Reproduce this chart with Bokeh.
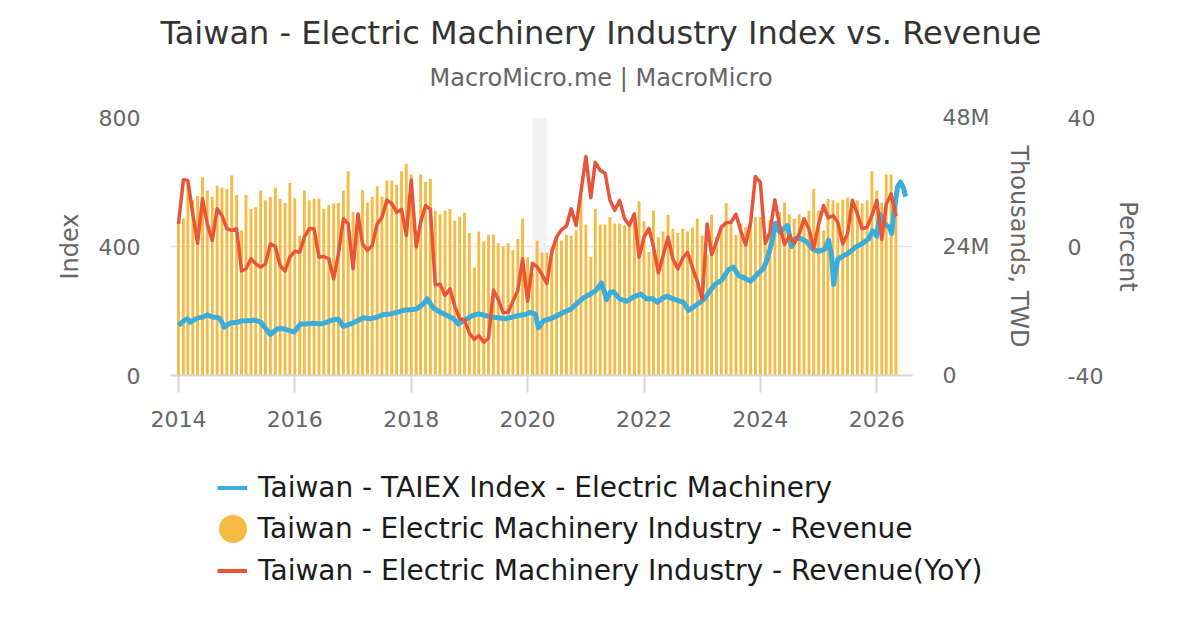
from datetime import datetime
import pandas as pd
from bokeh.plotting import figure
from bokeh.models import (Range1d, LinearAxis, FixedTicker, DatetimeTickFormatter,
                          BoxAnnotation, Title, CustomJSTickFormatter, Legend, LegendItem)
from bokeh.embed import file_html
from bokeh.resources import INLINE
from bokeh.core.properties import value

FONT = "DejaVu Sans"
BLUE = "#3AADDA"
BAR = "#F6BB43"
RED = "#E8553A"
NAN = float("nan")

# ---------------- data ----------------
title_text = "Taiwan - Electric Machinery Industry Index vs. Revenue"
subtitle_text = "MacroMicro.me | MacroMicro"
legend_labels = ["Taiwan - TAIEX Index - Electric Machinery",
                 "Taiwan - Electric Machinery Industry - Revenue",
                 "Taiwan - Electric Machinery Industry - Revenue(YoY)"]

first_month = "2014-01-01"
# monthly revenue, millions (of thousand TWD)
revenue_m = [
    28.5, 29.2, 36.3, 32.6, 33.4, 36.9, 34.4, 33.2, 35.3, 35.0, 34.7, 37.2,   # 2014
    33.6, 27.0, 33.6, 31.0, 31.3, 34.4, 32.6, 33.2, 35.0, 32.9, 32.1, 35.8,   # 2015
    33.0, 26.0, 34.4, 32.6, 32.9, 32.9, 31.0, 31.7, 32.0, 32.1, 34.4, 38.0,   # 2016
    30.4, 28.5, 34.5, 32.2, 33.2, 35.2, 33.3, 36.3, 36.3, 35.5, 38.0, 39.4,   # 2017
    37.4, 27.0, 37.4, 36.0, 36.6, 30.7, 30.0, 30.7, 31.0, 28.8, 29.6, 30.3,   # 2018
    26.5, 20.1, 26.8, 25.0, 26.2, 26.2, 24.6, 24.0, 24.6, 23.3, 25.4, 29.2,   # 2019
    22.0, 19.0, 25.1, 22.9, 22.9, 23.9, 25.4, 25.1, 26.2, 26.0, 27.0, 33.5,   # 2020
    28.1, 22.1, 31.0, 28.1, 28.1, 29.5, 28.3, 28.3, 27.9, 27.6, 28.5, 32.4,   # 2021
    28.7, 23.0, 30.7, 25.7, 26.8, 29.9, 27.3, 26.5, 27.3, 26.8, 27.6, 29.2,   # 2022
    26.0, 22.5, 29.9, 25.7, 27.3, 32.1, 28.8, 26.2, 28.3, 27.6, 28.3, 29.5,   # 2023
    29.5, 24.5, 29.0, 28.0, 30.4, 32.2, 30.0, 29.2, 30.0, 29.2, 30.7, 34.7,   # 2024
    30.7, 27.0, 32.9, 32.6, 32.2, 32.7, 33.1, 32.9, 32.6, 32.0, 32.6, 38.0,   # 2025
    34.4, 32.2, 37.4, 37.4, 33.5,                                             # 2026
]
# monthly revenue YoY, percent
revenue_yoy = [
    7.0, 20.7, 20.5, 10.0, 1.0, 14.8, 7.0, 1.9, 11.7, 9.6, 5.5, 5.0,
    5.5, -7.6, -6.9, -3.8, -5.4, -6.4, -5.4, 0.8, 0.0, -5.9, -7.6, -3.3,
    -1.5, -1.8, 2.9, 5.5, 5.5, -3.3, -3.1, -3.8, -10.0, -2.3, 8.6, 7.0,
    -6.9, 10.1, 0.8, -1.2, 0.3, 7.0, 9.0, 14.4, 13.3, 10.6, 11.5, 3.4,
    20.6, -0.1, 7.5, 12.7, 11.5, -11.9, -11.7, -15.2, -13.1, -18.5, -22.4, -22.8,
    -26.9, -28.8, -27.6, -29.7, -28.4, -13.6, -16.4, -20.5, -20.4, -17.0, -13.6, -3.8,
    -17.0, -5.2, -6.3, -8.7, -11.5, -1.7, 2.9, 5.2, 6.3, 11.7, 6.5, 16.8,
    27.9, 15.1, 26.1, 23.6, 22.8, 14.4, 11.2, 14.3, 8.6, 6.5, 10.1, -3.3,
    2.9, 5.6, 0.0, -8.2, -2.8, 2.9, -3.8, -7.0, -3.6, -1.8, -6.5, -10.8,
    -16.4, 7.0, -2.5, 1.5, 6.0, 7.4, 7.5, 10.0, 4.7, 0.5, 7.5, 21.7,
    19.9, 1.0, 4.4, 14.5, 6.5, 0.6, 3.4, 1.0, 3.9, 8.6, 5.5, -0.7,
    7.0, 12.7, 8.9, 9.6, 7.5, 0.8, 3.9, 14.3, 10.1, 5.5, 6.0, 9.6,
    14.3, 2.2, 13.1, 16.3, 9.4,
]

index_dates = [
    "2014-01-02", "2014-02-02", "2014-02-27", "2014-03-15", "2014-04-28", "2014-06-05",
    "2014-06-30", "2014-08-07", "2014-08-26", "2014-09-20", "2014-10-15", "2014-11-22",
    "2015-01-06", "2015-02-13", "2015-03-27", "2015-04-21", "2015-05-29", "2015-06-23",
    "2015-07-31", "2015-09-13", "2015-10-21", "2015-11-21", "2015-12-29",
    "2016-02-05", "2016-03-13", "2016-04-26", "2016-06-10", "2016-07-17", "2016-08-24",
    "2016-10-01", "2016-11-02", "2016-12-16",
    "2017-01-29", "2017-03-06", "2017-04-19", "2017-06-02", "2017-07-10", "2017-08-23",
    "2017-10-06", "2017-11-13", "2017-12-27",
    "2018-02-03", "2018-03-17", "2018-04-11", "2018-05-19", "2018-07-02", "2018-08-15",
    "2018-09-23", "2018-10-24", "2018-12-07",
    "2019-01-21", "2019-02-28", "2019-04-11", "2019-05-25", "2019-07-01", "2019-08-15",
    "2019-09-28", "2019-11-05", "2019-12-18",
    "2020-01-19", "2020-02-20", "2020-03-09", "2020-04-10", "2020-05-24", "2020-07-07",
    "2020-08-14", "2020-09-27", "2020-11-10", "2020-12-11",
    "2021-01-19", "2021-03-02", "2021-04-09", "2021-04-28", "2021-05-10", "2021-06-04",
    "2021-06-23", "2021-07-31", "2021-09-13", "2021-10-27", "2021-12-10",
    "2022-01-17", "2022-02-24", "2022-03-26", "2022-04-27", "2022-05-28", "2022-06-29",
    "2022-07-30", "2022-09-06", "2022-10-07", "2022-11-21", "2022-12-28",
    "2023-01-23", "2023-02-23", "2023-03-25", "2023-05-02", "2023-06-15", "2023-07-16",
    "2023-08-17", "2023-09-24", "2023-11-01", "2023-12-15",
    "2024-01-22", "2024-02-16", "2024-03-11", "2024-04-06", "2024-05-01", "2024-05-26",
    "2024-06-20", "2024-07-15", "2024-08-10", "2024-09-10", "2024-10-18", "2024-11-25",
    "2025-01-02", "2025-02-09", "2025-03-04", "2025-03-23", "2025-04-05", "2025-04-30",
    "2025-06-01", "2025-07-08", "2025-08-21", "2025-10-04", "2025-11-11", "2025-12-06",
    "2026-01-01", "2026-01-20", "2026-02-14", "2026-03-03", "2026-03-22", "2026-04-04",
    "2026-04-23", "2026-05-11", "2026-05-30", "2026-06-18", "2026-07-01",
]
index_values = [
    155, 170, 176, 165, 178, 181, 188, 181, 181, 176, 150, 163,
    165, 170, 170, 172, 166, 152, 127, 145, 145, 140, 135,
    160, 160, 162, 160, 165, 172, 175, 152, 160,
    170, 179, 176, 181, 189, 191, 196, 202, 204,
    206, 222, 238, 210, 196, 186, 176, 160, 173,
    186, 191, 186, 181, 179, 176, 181, 186, 189,
    196, 190, 148, 170, 176, 186, 196, 205, 225, 238,
    250, 262, 287, 258, 235, 258, 260, 238, 230, 243, 253,
    238, 238, 227, 240, 246, 238, 233, 227, 202, 217, 230,
    243, 265, 284, 295, 328, 336, 310, 302, 292, 315,
    333, 365, 410, 472, 445, 455, 465, 400, 425, 425, 415, 392,
    385, 392, 420, 370, 282, 360, 370, 380, 398, 410, 424, 448,
    432, 500, 475, 465, 460, 440, 522, 585, 600, 580, 555,
]

recession_start = "2020-02-01"
recession_end = "2020-04-30"

year_ticks = [2014, 2016, 2018, 2020, 2022, 2024, 2026]
index_ticks = [0, 400, 800]
revenue_ticks = [0, 24, 48]
yoy_ticks = [-40, 0, 40]

# ---------------- chart ----------------
months = pd.date_range(first_month, periods=len(revenue_m), freq="MS")
idx_dates = pd.to_datetime(index_dates)

def ms(s):
    return pd.Timestamp(s).value / 1e6

FRAME_L, FRAME_T, FRAME_R, FRAME_B = 170, 117, 912, 375
W, H_CHART, H_LEGEND = 1200, 445, 185

p = figure(width=W, height=H_CHART, x_axis_type="datetime",
           x_range=Range1d(ms("2013-11-12"), ms("2026-08-13")),
           y_range=Range1d(0, 800),
           output_backend="svg", toolbar_location=None, title=None,
           min_border_left=FRAME_L, min_border_right=W - FRAME_R,
           min_border_top=FRAME_T, min_border_bottom=H_CHART - FRAME_B)
p.outline_line_color = None
p.background_fill_color = "white"
p.border_fill_color = "white"
p.extra_y_ranges = {"rev": Range1d(0, 48), "yoy": Range1d(-40, 40)}

sub = Title(text=subtitle_text, text_font=FONT, text_font_size="24px",
            text_color="#666666", text_font_style="normal", align="left",
            offset=259, standoff=52)
main = Title(text=title_text, text_font=FONT, text_font_size="32px",
             text_color="#333333", text_font_style="normal", align="left",
             offset=-10, standoff=-32)
p.add_layout(sub, "above")
p.add_layout(main, "above")

p.xgrid.visible = False
p.ygrid.ticker = FixedTicker(ticks=index_ticks)
p.ygrid.grid_line_color = "#e6e6e6"
p.ygrid.grid_line_width = 1.5

band = BoxAnnotation(left=ms(recession_start), right=ms(recession_end),
                     fill_color="#f2f2f2", fill_alpha=1.0, line_color=None,
                     level="underlay")
p.add_layout(band)

bar_w = 18 * 24 * 3600 * 1000
p.vbar(x=months, top=revenue_m, width=bar_w, bottom=0, y_range_name="rev",
       fill_color=BAR, line_color=None)
p.line(x=idx_dates, y=index_values, line_color=BLUE, line_width=5, line_join="round")
p.line(x=months, y=revenue_yoy, y_range_name="yoy", line_color=RED,
       line_width=3.5, line_join="round")

def style_y(ax, label, standoff_lbl, label_standoff):
    ax.axis_label = label
    ax.axis_line_color = None
    ax.major_tick_line_color = None
    ax.minor_tick_line_color = None
    ax.major_tick_out = 0
    ax.major_tick_in = 0
    ax.major_label_standoff = standoff_lbl
    ax.major_label_text_font = FONT
    ax.major_label_text_font_size = "22px"
    ax.major_label_text_color = "#666666"
    ax.axis_label_text_font = FONT
    ax.axis_label_text_font_size = "24px"
    ax.axis_label_text_color = "#666666"
    ax.axis_label_text_font_style = "normal"
    ax.axis_label_standoff = label_standoff

yl = p.yaxis[0]
yl.ticker = FixedTicker(ticks=index_ticks)
style_y(yl, "Index", 30, 12)

rev_axis = LinearAxis(y_range_name="rev", ticker=FixedTicker(ticks=revenue_ticks),
                      formatter=CustomJSTickFormatter(code="return tick == 0 ? '0' : tick + 'M'"))
style_y(rev_axis, "Thousands, TWD", 30, 13)
p.add_layout(rev_axis, "right")

yoy_axis = LinearAxis(y_range_name="yoy", ticker=FixedTicker(ticks=yoy_ticks),
                      formatter=CustomJSTickFormatter(code="return String(tick)"))
style_y(yoy_axis, "Percent", 31, 8)
p.add_layout(yoy_axis, "right")

xa = p.xaxis[0]
xa.ticker = FixedTicker(ticks=[ms(f"{y}-01-01") for y in year_ticks], num_minor_ticks=0)
xa.formatter = DatetimeTickFormatter(years="%Y", months="%Y", days="%Y", hours="%Y",
                                     minutes="%Y", seconds="%Y", milliseconds="%Y",
                                     microseconds="%Y", hourmin="%Y", minsec="%Y")
xa.axis_line_color = "#d6d6d6"
xa.axis_line_width = 2
xa.major_tick_line_color = "#d6d6d6"
xa.major_tick_line_width = 2
xa.major_tick_out = 17
xa.major_tick_in = 0
xa.minor_tick_line_color = None
xa.major_label_standoff = 18
xa.major_label_text_font = FONT
xa.major_label_text_font_size = "22px"
xa.major_label_text_color = "#666666"

# ---------------- legend strip (its own root, under the chart) ----------------
lg = figure(width=W, height=H_LEGEND, x_range=Range1d(0, 1), y_range=Range1d(0, 1),
            output_backend="svg", toolbar_location=None, title=None,
            x_axis_location=None, y_axis_location=None, min_border=0)
lg.outline_line_color = None
lg.grid.visible = False
lg.background_fill_color = "white"
lg.border_fill_color = "white"

# legend keys: styled like the series, with no drawable position of their own
k_idx = lg.line(x=[NAN], y=[NAN], line_color=BLUE, line_width=4)
k_rev = lg.ellipse(x=[NAN], y=[NAN], width=28, height=28,
                   width_units="screen", height_units="screen",
                   fill_color=BAR, line_color=None)
k_yoy = lg.line(x=[NAN], y=[NAN], line_color=RED, line_width=4)

row_center = [487, 528.5, 570]          # page pixel rows of the legend entries
swatch_left, text_left = 217, 258
LINE_BOX, CIRCLE_BOX = 33, 35
for label, rend, cy, box in [(legend_labels[0], k_idx, row_center[0], LINE_BOX),
                             (legend_labels[1], k_rev, row_center[1], CIRCLE_BOX),
                             (legend_labels[2], k_yoy, row_center[2], LINE_BOX)]:
    gw = 30 if box == LINE_BOX else box
    left = swatch_left if box == LINE_BOX else (swatch_left + 15) - box / 2
    standoff = int(round(text_left - (left + gw)))
    leg = Legend(items=[LegendItem(label=value(label), renderers=[rend])],
                 location=(left, (H_CHART + H_LEGEND) - (cy + box / 2)),
                 orientation="vertical", padding=0, margin=0, spacing=0,
                 glyph_width=gw, glyph_height=box, label_height=box,
                 label_standoff=standoff,
                 label_text_font=FONT, label_text_font_size="28px",
                 label_text_color="#1a1a1a", label_text_baseline="middle",
                 background_fill_alpha=0, border_line_color=None)
    lg.add_layout(leg)

open("out.html", "w").write(file_html([p, lg], INLINE))
